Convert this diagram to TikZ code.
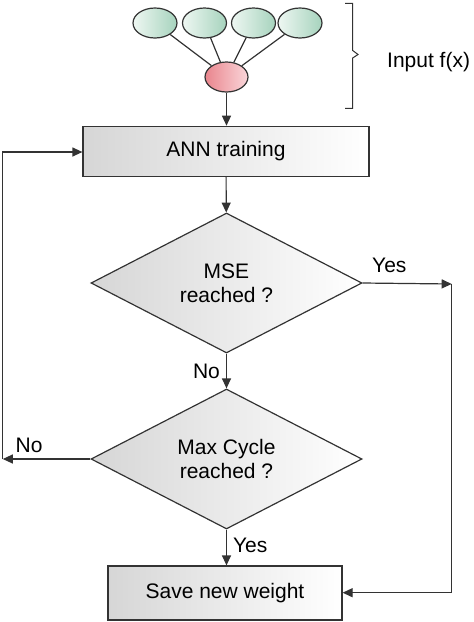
\documentclass[tikz,border=0pt]{standalone}
\usepackage{fontspec}
\setmainfont{Liberation Sans}
\usetikzlibrary{shapes.geometric,arrows.meta}
\definecolor{lnc}{HTML}{333333}
\definecolor{grnL}{HTML}{EEF7F2}
\definecolor{grnR}{HTML}{A6D3BD}
\definecolor{redL}{HTML}{E9858D}
\definecolor{redR}{HTML}{FAD6DA}
\definecolor{gryL}{HTML}{D6D6D6}
\tikzset{
  ln/.style={line width=1.2pt, draw=lnc},
  lbl/.style={font=\fontsize{21}{24}\selectfont, text=black, align=center, inner sep=0pt},
  gell/.style={ellipse, draw=lnc, line width=1.2pt, minimum width=44pt, minimum height=30pt, inner sep=0pt, left color=grnL, right color=grnR},
  rell/.style={ellipse, draw=lnc, line width=1.2pt, minimum width=43pt, minimum height=30pt, inner sep=0pt, left color=redL, right color=redR},
  procbox/.style={rectangle, draw=lnc, line width=1.2pt, left color=gryL, right color=white, inner sep=0pt, font=\fontsize{21}{24}\selectfont},
  decide/.style={diamond, draw=lnc, line width=1.2pt, left color=gryL, right color=white, minimum width=271pt, minimum height=140pt, inner sep=0pt, align=center, font=\fontsize{21}{24}\selectfont},
  arr/.style={-{Triangle[length=10pt,width=9pt]}, line width=1.2pt, draw=lnc}
}
\begin{document}
\begin{tikzpicture}[x=1pt,y=-1pt]
\useasboundingbox (0,0) rectangle (474,622);
% input layer
\node[gell] (g1) at (155,23) {};
\node[gell] (g2) at (204.5,23) {};
\node[gell] (g3) at (253.5,23) {};
\node[gell] (g4) at (300,23) {};
\node[rell] (r) at (226.5,77) {};
\foreach \g in {g1,g2,g3,g4} \draw[ln] (\g) -- (r);
% bracket
\coordinate (b1) at (345,3.3);
\coordinate (b2) at (352.7,3.3);
\coordinate (b3) at (352.7,50.5);
\coordinate (b4) at (358,54.5);
\coordinate (b5) at (352.7,58);
\coordinate (b6) at (352.7,108.3);
\coordinate (b7) at (345,108.3);
\draw[ln, line width=1pt] (b1) -- (b2) -- (b3) -- (b4) -- (b5) -- (b6) -- (b7);
\node[lbl, anchor=west] (inp) at (387,62) {Input f(x)};
% flow
\node[procbox, minimum width=286pt, minimum height=50pt] (ann) at (226,151.3) {ANN training};
\node[decide] (mse) at (226.5,283) {MSE\\reached ?};
\node[decide] (max) at (226.5,459) {Max Cycle\\reached ?};
\node[procbox, minimum width=234pt, minimum height=54pt] (save) at (225,593) {Save new weight};
\draw[arr] (r) -- (r |- ann.north);
\draw[arr] (ann) -- (mse);
\draw[arr] (mse) -- node[lbl, left=6pt, pos=0.5] (no1) {No} (max);
\draw[arr] (max) -- node[lbl, right=6pt, pos=0.45] (yes2) {Yes} (max |- save.north);
\coordinate (rt) at (451.7,284);
\coordinate (rb) at (451.7,592.7);
\draw[arr] (mse.east) -- node[lbl, above=10pt, pos=0.3] (yes1) {Yes} (rt);
\draw[arr] (rt) -- (rb) -- (save.east |- rb);
\coordinate (lb) at (2.8,459);
\coordinate (lt) at (2.8,152);
\draw[arr] (max.west) -- node[lbl, above=6pt, pos=0.7] (no2) {No} (lb);
\draw[arr] (lb) -- (lt) -- (ann.west |- lt);
\end{tikzpicture}
\end{document}
